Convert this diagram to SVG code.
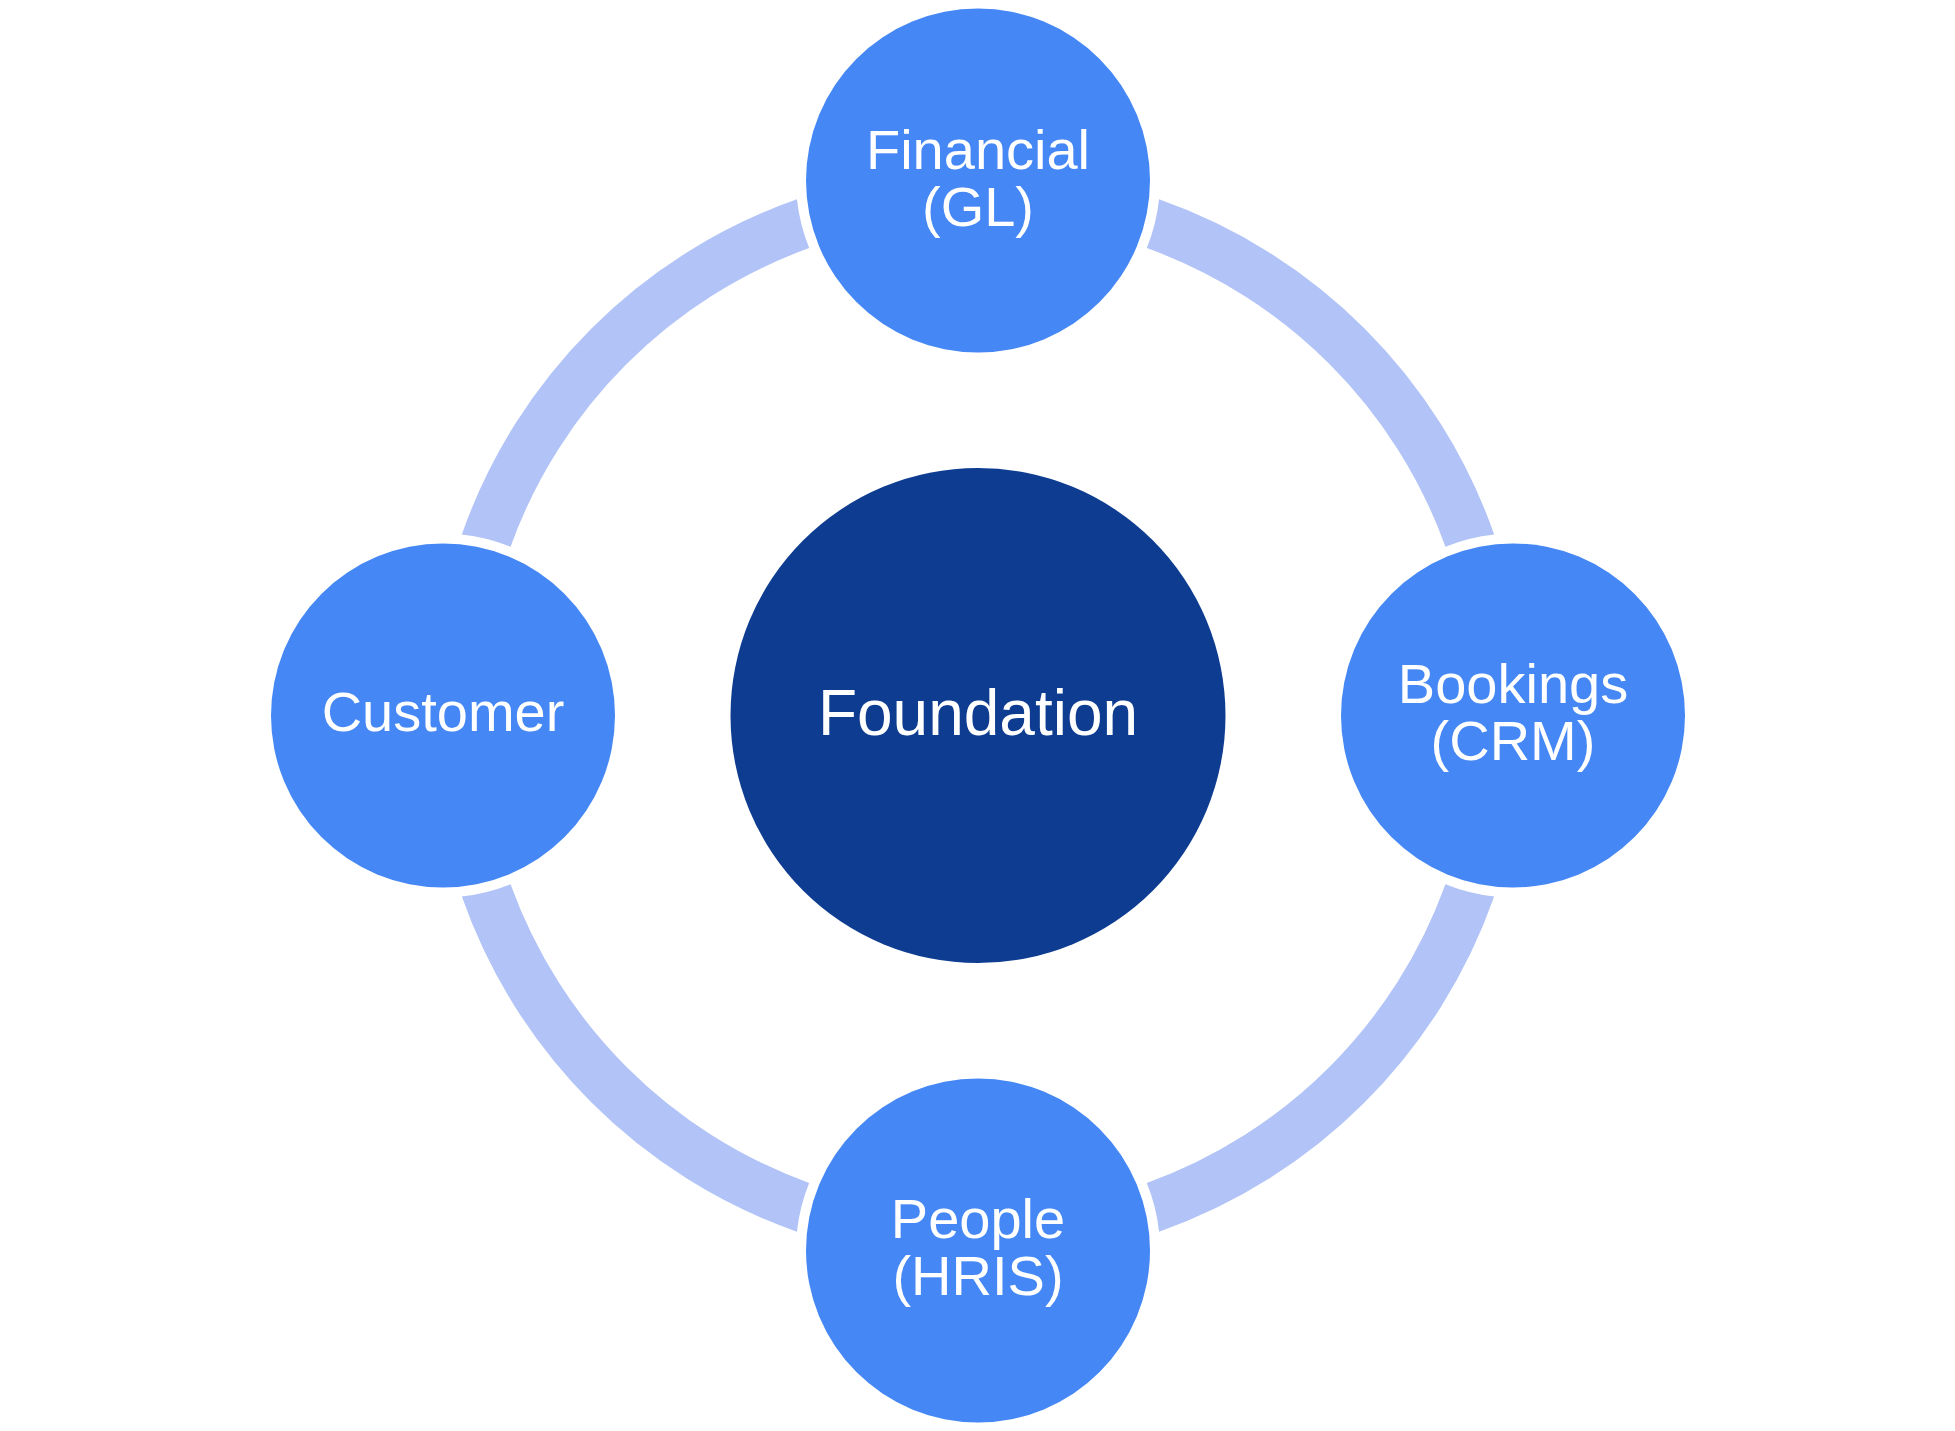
<svg xmlns="http://www.w3.org/2000/svg" width="1955" height="1431" viewBox="0 0 1955 1431">
<style>
.band{fill:#B1C3F7;stroke:none}
.node{fill:#4487F5}
.core{fill:#0D3C91}
.lbl{font-family:"Liberation Sans",Arial,sans-serif;fill:#FFFFFF;text-anchor:middle;font-size:56px}
.big{font-size:64px}
</style>
<rect width="1955" height="1431" fill="#FFFFFF"/>
<g id="connectors">
<path class="band" d="M 1159.06 199.34 A 547 547 0 0 1 1494.16 534.44 A 182 182 0 0 0 1445.44 546.66 A 497 497 0 0 0 1146.84 248.06 A 182 182 0 0 0 1159.06 199.34 Z"/>
<path class="band" d="M 1494.16 896.56 A 547 547 0 0 1 1159.06 1231.66 A 182 182 0 0 0 1146.84 1182.94 A 497 497 0 0 0 1445.44 884.34 A 182 182 0 0 0 1494.16 896.56 Z"/>
<path class="band" d="M 796.94 1231.66 A 547 547 0 0 1 461.84 896.56 A 182 182 0 0 0 510.56 884.34 A 497 497 0 0 0 809.16 1182.94 A 182 182 0 0 0 796.94 1231.66 Z"/>
<path class="band" d="M 461.84 534.44 A 547 547 0 0 1 796.94 199.34 A 182 182 0 0 0 809.16 248.06 A 497 497 0 0 0 510.56 546.66 A 182 182 0 0 0 461.84 534.44 Z"/>
</g>
<g id="foundation">
<circle class="core" cx="978" cy="715.5" r="247.5"/>
<text class="lbl big" x="978" y="735">Foundation</text>
</g>
<g id="financial">
<circle class="node" cx="978" cy="180.5" r="172"/>
<text class="lbl" x="978" y="169">Financial</text>
<text class="lbl" x="978" y="226">(GL)</text>
</g>
<g id="bookings">
<circle class="node" cx="1513" cy="715.5" r="172"/>
<text class="lbl" x="1513" y="703">Bookings</text>
<text class="lbl" x="1513" y="760">(CRM)</text>
</g>
<g id="people">
<circle class="node" cx="978" cy="1250.5" r="172"/>
<text class="lbl" x="978" y="1238">People</text>
<text class="lbl" x="978" y="1295">(HRIS)</text>
</g>
<g id="customer">
<circle class="node" cx="443" cy="715.5" r="172"/>
<text class="lbl" x="443" y="731">Customer</text>
</g>
</svg>
